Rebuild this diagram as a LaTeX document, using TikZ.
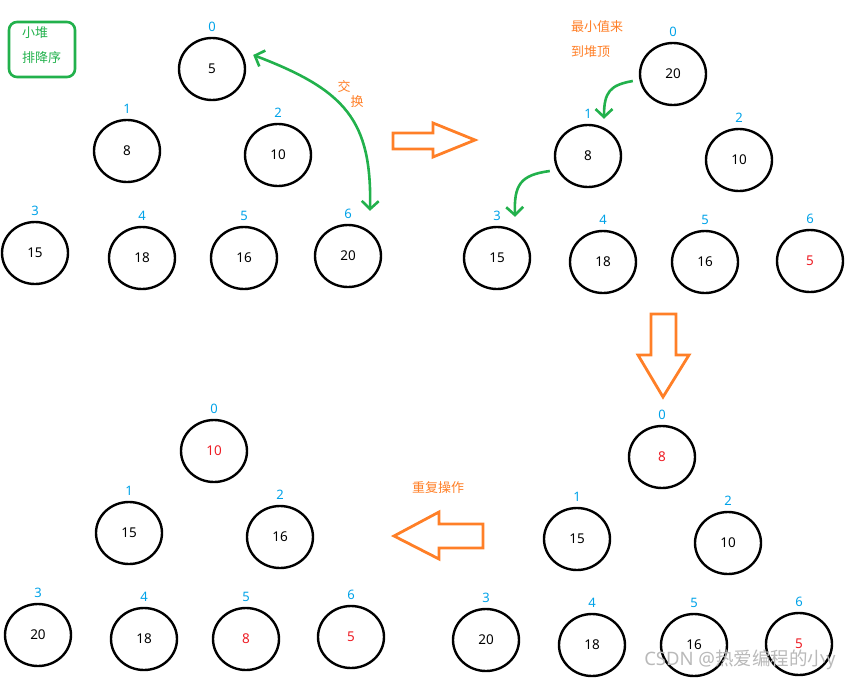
\documentclass[tikz,border=0pt]{standalone}
\usepackage{fontspec}
\setmainfont{Noto Sans}
\newfontfamily\cjk{Noto Sans CJK SC}
\usepackage{tikz}
\usetikzlibrary{shapes.geometric,arrows.meta}
\definecolor{hpgreen}{HTML}{22B14C}
\definecolor{hporange}{HTML}{FF7F27}
\definecolor{hpblue}{HTML}{00A2E8}
\definecolor{hpred}{HTML}{ED1C24}

\begin{document}
\begin{tikzpicture}[
      x=1pt, y=-1pt,
      hnode/.style={ellipse, draw=black, line width=2.4pt, minimum width=66pt,
                    minimum height=62pt, inner sep=0pt,
                    font=\fontsize{13.5}{13.5}\selectfont},
      idx/.style={text=hpblue, font=\fontsize{13}{13}\selectfont,
                  inner sep=1pt, label distance=4pt},
      note/.style={text=hporange, font=\cjk\fontsize{13}{13}\selectfont,
                   inner sep=0pt},
      swaparrow/.style={draw=hpgreen, line width=2.6pt,
                        {Straight Barb[length=8pt,width=17pt]}-{Straight Barb[length=8pt,width=17pt]}},
      siftarrow/.style={draw=hpgreen, line width=2.6pt,
                        -{Straight Barb[length=8pt,width=17pt]}},
      hollow/.style={draw=hporange, line width=2.8pt, line join=miter},
    ]
    \useasboundingbox (0,0) rectangle (855,680);

    % legend box
    \node[draw=hpgreen, line width=2.6pt, rounded corners=8pt,
          minimum width=66pt, minimum height=55pt] (legend) at (42,49.5) {};
    \node[note, text=hpgreen, anchor=west] (leg1) at (22,33) {小堆};
    \node[note, text=hpgreen, anchor=west] (leg2) at (22,58) {排降序};

    % tree 1: heap after building
    \foreach \k/\px/\py/\val/\col in {0/212/69/5/black, 1/127/151/8/black,
        2/278/155/10/black, 3/35/253/15/black, 4/142/258/18/black,
        5/244/258/16/black, 6/348/256/20/black}
      \node[hnode, text=\col, label={[idx]90:\k}] (A\k) at (\px,\py) {\val};

    \draw[swaparrow] ([xshift=7pt,yshift=14pt]A0.east)
      .. controls (345,90) and (372,120) .. ([xshift=22pt,yshift=13pt]A6.north);
    \node[note] (swap1) at (344,87)  {交};
    \node[note] (swap2) at (357,102) {换};

    % tree 2: after swap, sift down
    \foreach \k/\px/\py/\val/\col in {0/673/74/20/black, 1/588/156/8/black,
        2/739/160/10/black, 3/497/258/15/black, 4/603/262/18/black,
        5/705/262/16/black, 6/810/261/5/hpred}
      \node[hnode, text=\col, label={[idx]90:\k}] (B\k) at (\px,\py) {\val};

    \draw[siftarrow] ([xshift=-6pt,yshift=-7pt]B0.west)
      .. controls (610,85) and (604,92) .. ([xshift=16pt,yshift=5pt]B1.north);
    \draw[siftarrow] ([xshift=-4pt,yshift=-15pt]B1.west)
      .. controls (520,175) and (514,185) .. ([xshift=18pt,yshift=9pt]B3.north);
    \node[note, anchor=west] (top1) at (571,27) {最小值来};
    \node[note, anchor=west] (top2) at (571,52) {到堆顶};

    % tree 3: new top
    \foreach \k/\px/\py/\val/\col in {0/662/457/8/hpred, 1/577/539/15/black,
        2/728/543/10/black, 3/486/640/20/black, 4/592/645/18/black,
        5/694/645/16/black, 6/799/644/5/hpred}
      \node[hnode, text=\col, label={[idx]90:\k}] (C\k) at (\px,\py) {\val};

    % tree 4: after repeating
    \foreach \k/\px/\py/\val/\col in {0/214/451/10/hpred, 1/129/533/15/black,
        2/280/537/16/black, 3/38/635/20/black, 4/144/639/18/black,
        5/246/639/8/hpred, 6/351/637/5/hpred}
      \node[hnode, text=\col, label={[idx]90:\k}] (D\k) at (\px,\py) {\val};
    \node[note] (again) at (438,488) {重复操作};

    % hollow step arrows
    \draw[hollow] (393,133) -- (433,133) -- (433,123) -- (475,140)
      -- (433,157) -- (433,149) -- (393,149) -- cycle;
    \draw[hollow] (651,314) -- (676,314) -- (676,355) -- (689,355)
      -- (663,397) -- (638,355) -- (651,355) -- cycle;
    \draw[hollow] (394,536) -- (439,512) -- (439,524) -- (483,524)
      -- (483,548) -- (439,548) -- (439,559) -- cycle;

    % watermark
    \node[text=gray!55, font=\fontsize{18.5}{18.5}\selectfont, inner sep=0pt]
      (mark) at (740,660) {CSDN @{\cjk 热爱编程的小y}};
  \end{tikzpicture}
\end{document}
